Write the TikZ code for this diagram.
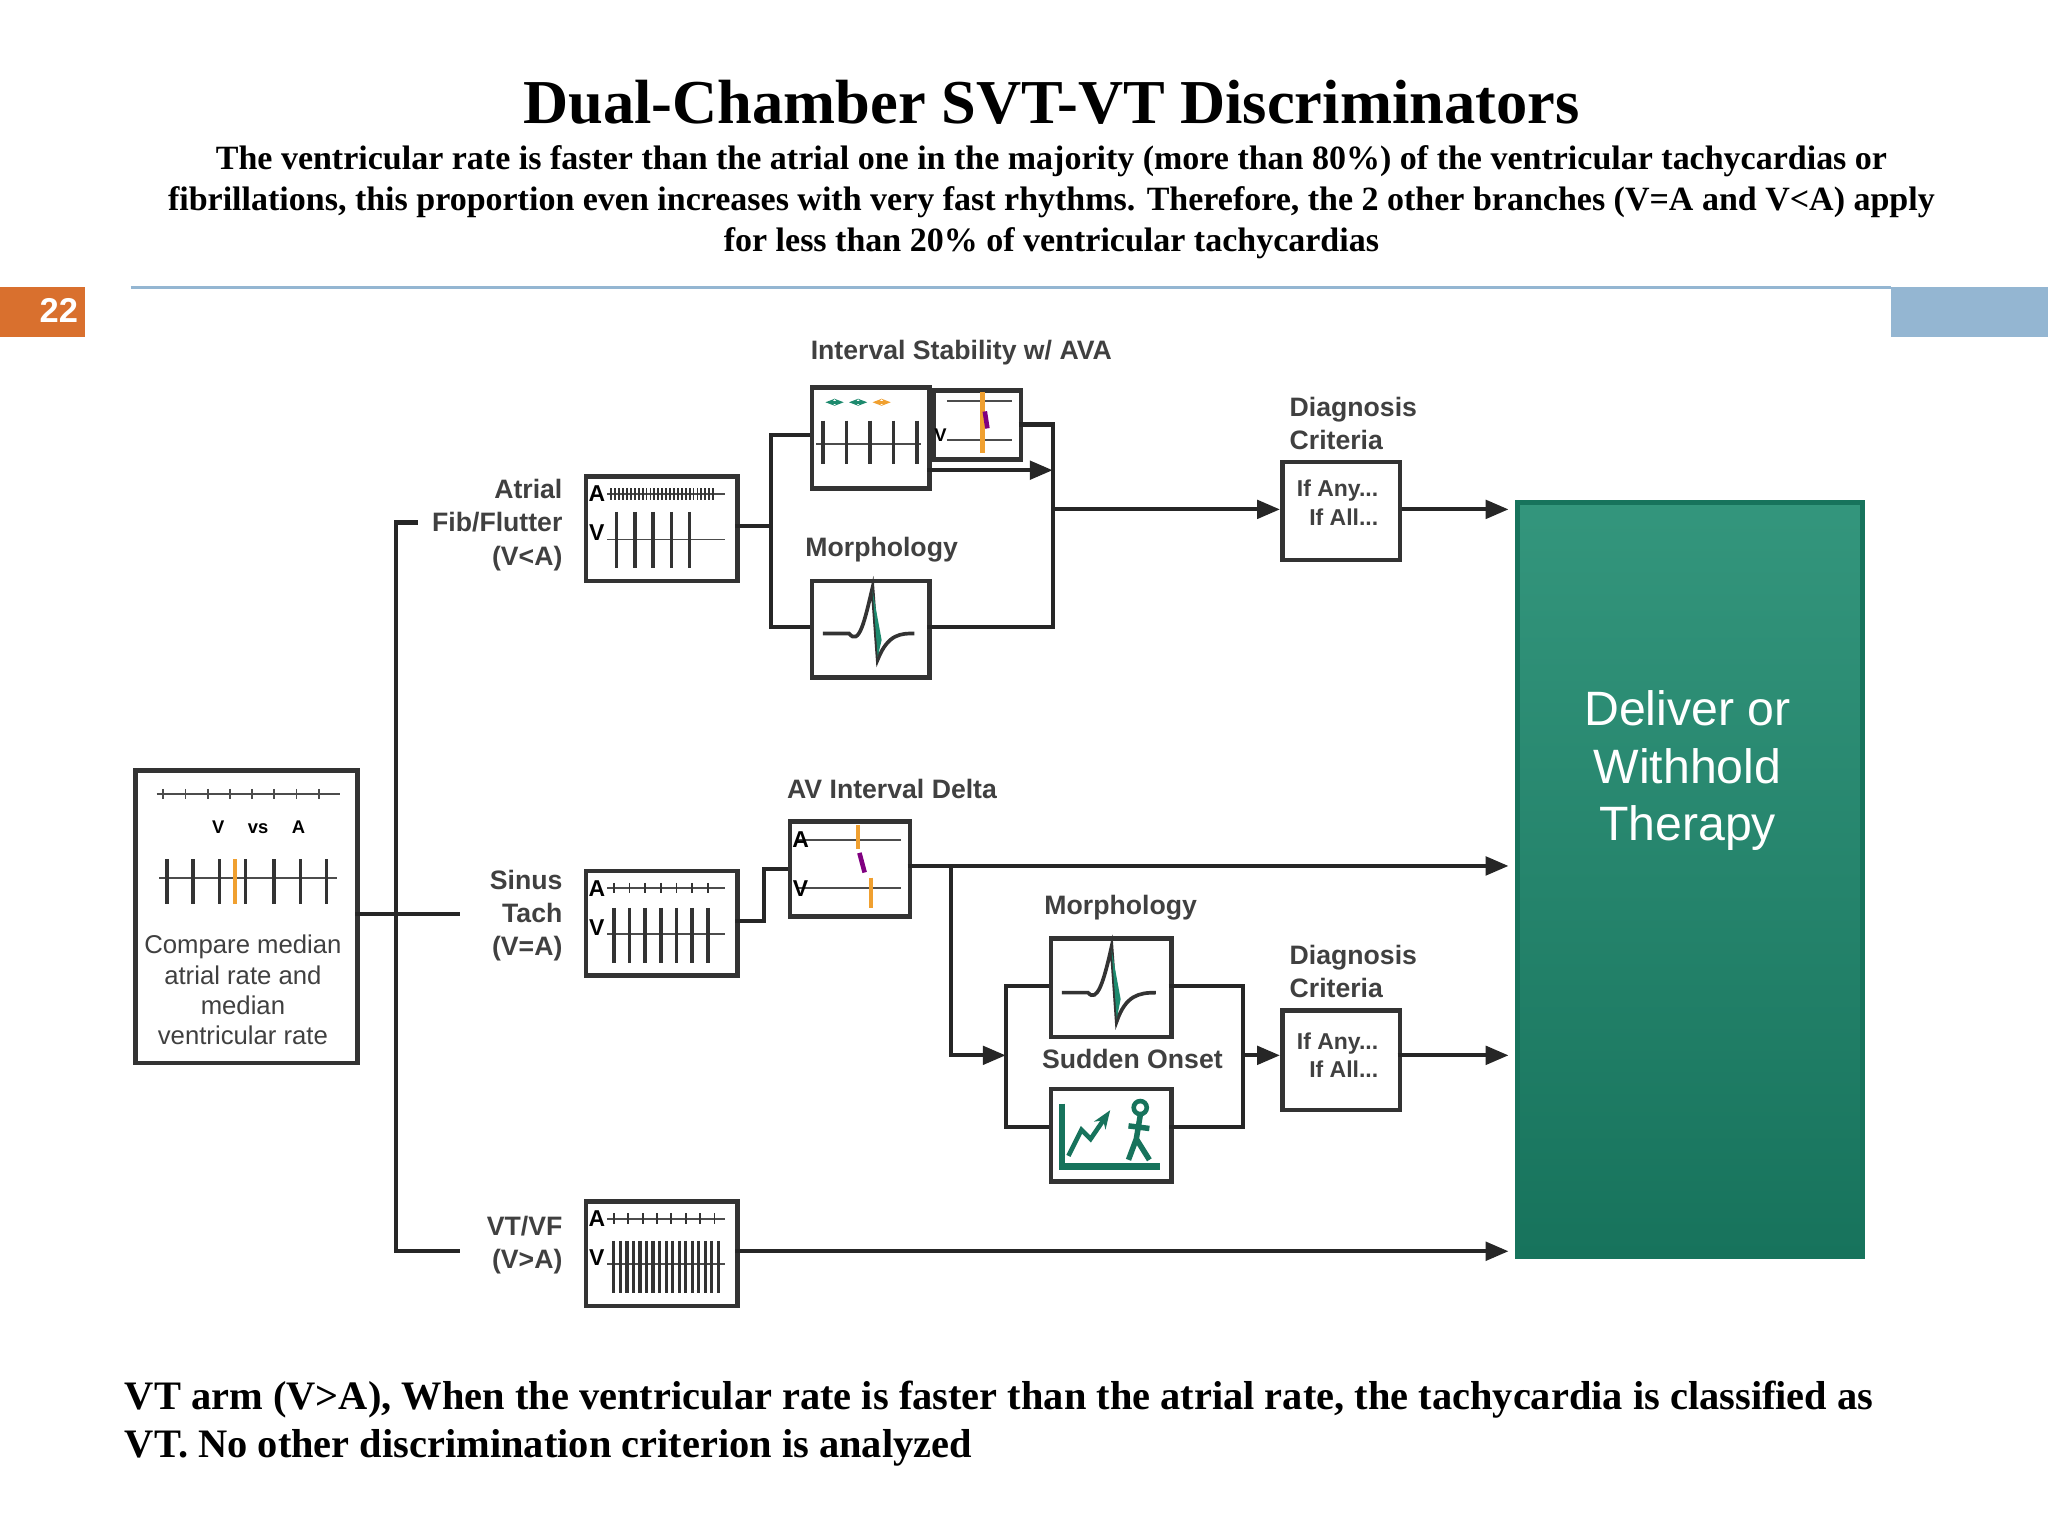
\documentclass[tikz,border=0pt]{standalone}
\usepackage{fontspec}
\setmainfont{Liberation Serif}
\newfontfamily\lblfont{Liberation Sans}
\usetikzlibrary{arrows.meta}
\definecolor{tealbox}{HTML}{1D8A6E}
\definecolor{tealdark}{HTML}{17735C}
\definecolor{slideorange}{HTML}{D9702E}
\definecolor{slideblue}{HTML}{94B6D2}
\definecolor{ecgorange}{HTML}{F0A030}
\tikzset{
  stripbox/.style={draw=black!80,line width=1pt,fill=white,inner sep=0pt,anchor=north west},
  lbl/.style={font=\lblfont\fontsize{5.8}{7.2}\selectfont\bfseries,text=black!75},
  flow/.style={draw=black!85,line width=0.9pt},
  arr/.style={flow,-{Triangle[length=5pt,width=4pt]}},
}
\begin{document}
\begin{tikzpicture}[x=0.01cm,y=-0.01cm]
\useasboundingbox (0,0) rectangle (1568,1176);
% header
\node (title) at (805,78) {\fontsize{13.6}{15}\selectfont\bfseries Dual-Chamber SVT-VT Discriminators};
\node[align=center,font=\fontsize{7.4}{8.9}\selectfont\bfseries] (sub) at (805,155) {
  The ventricular rate is faster than the atrial one in the majority (more than 80\%) of the ventricular tachycardias or\\
  fibrillations, this proportion even increases with very fast rhythms. Therefore, the 2 other branches (V=A and V<A) apply\\
  for less than 20\% of ventricular tachycardias};
\fill[slideorange] (0,220) rectangle (65,258);
\node[text=white,font=\lblfont\fontsize{7.5}{9}\selectfont\bfseries] (num) at (45,238) {22};
\draw[slideblue,line width=0.8pt] (100,220) -- (1448,220);
\fill[slideblue] (1448,220) rectangle (1568,258);
% left compare box
\node[stripbox,minimum width=1.70cm,minimum height=2.24cm] (cmp) at (102,588) {};
\draw[black!70] (120,608) -- (260,608);
\foreach \x in {125,142,159,176,193,210,227,244} \draw[black!70] (\x,604) -- (\x,612);
\draw[black!70] (122,672) -- (258,672);
\foreach \x in {128,148,168,188,210,230,250} \draw[black!80,line width=0.8pt] (\x,658) -- (\x,692);
\draw[ecgorange,line width=1pt] (180,658) -- (180,692);
\node[font=\lblfont\fontsize{4}{5}\selectfont\bfseries] (va) at (198,633) {V \quad vs \quad A};
\node[lbl,font=\lblfont\fontsize{5.6}{6.6}\selectfont,align=center] (cmptext) at (186,758) {Compare median\\atrial rate and\\median\\ventricular rate};
% branches
\draw[flow] (272,700) -- (352,700);
\draw[flow] (320,400) -- (303,400) -- (303,958) -- (352,958);
% strip boxes
\node[stripbox,minimum width=1.16cm,minimum height=0.80cm] (af) at (447,363) {};
\node[stripbox,minimum width=1.16cm,minimum height=0.80cm] (st) at (447,665) {};
\node[stripbox,minimum width=1.16cm,minimum height=0.80cm] (vt) at (447,918) {};
\node[lbl,align=right,anchor=east] (aflbl) at (443,402) {Atrial\\Fib/Flutter\\(V<A)};
\node[lbl,align=right,anchor=east] (stlbl) at (443,701) {Sinus\\Tach\\(V=A)};
\node[lbl,align=right,anchor=east] (vtlbl) at (443,953) {VT/VF\\(V>A)};
\foreach \b in {363,665,918}{
  \draw[black!70] (465,\b+15) -- (555,\b+15);
  \draw[black!70] (465,\b+50) -- (555,\b+50);
  \node[font=\lblfont\fontsize{5}{6}\selectfont\bfseries] at (457,\b+15) {A};
  \node[font=\lblfont\fontsize{5}{6}\selectfont\bfseries] at (457,\b+45) {V};
}
\foreach \x in {468,471,...,548} \draw[black!80] (\x,374) -- (\x,383);
\foreach \x in {472,486,...,540} \draw[black!80,line width=0.8pt] (\x,392) -- (\x,435);
\foreach \x in {470,482,...,545} \draw[black!80] (\x,676) -- (\x,684);
\foreach \x in {470,482,...,545} \draw[black!80,line width=0.8pt] (\x,695) -- (\x,737);
\foreach \x in {470,481,...,550} \draw[black!80] (\x,929) -- (\x,937);
\foreach \x in {470,475,...,552} \draw[black!80,line width=0.7pt] (\x,950) -- (\x,990);
% AF branch
\draw[flow] (563,403) -- (590,403);
\draw[flow] (620,333) -- (590,333) -- (590,480) -- (620,480);
\node[stripbox,minimum width=0.90cm,minimum height=0.77cm] (ivs) at (620,295) {};
\node[stripbox,minimum width=0.67cm,minimum height=0.53cm] (ivsb) at (713,297) {};
\draw[black!70] (625,340) -- (705,340);
\foreach \x in {630,648,666,684,702} \draw[black!80,line width=0.8pt] (\x,322) -- (\x,355);
\draw[tealbox,{Stealth[length=2pt]}-{Stealth[length=2pt]},line width=0.7pt] (632,308) -- (646,308);
\draw[tealbox,{Stealth[length=2pt]}-{Stealth[length=2pt]},line width=0.7pt] (650,308) -- (664,308);
\draw[ecgorange,{Stealth[length=2pt]}-{Stealth[length=2pt]},line width=0.7pt] (668,308) -- (682,308);
\draw[black!70] (725,307) -- (775,307);
\draw[black!70] (725,337) -- (775,337);
\draw[ecgorange,line width=1pt] (752,300) -- (752,347);
\draw[violet,line width=1pt] (754,315) -- (756,328);
\node[font=\lblfont\fontsize{4}{5}\selectfont\bfseries] at (720,333) {V};
\node[stripbox,minimum width=0.90cm,minimum height=0.74cm] (afm) at (620,443) {};
\draw[black!80,line width=0.8pt] (630,485) -- (650,485) .. controls (658,495) and (662,475) .. (668,450) -- (672,505) .. controls (680,485) and (690,485) .. (700,485);
\fill[tealbox] (668,452) -- (672,503) -- (675,490) -- cycle;
\node[lbl] (ivslbl) at (736,270) {Interval Stability w/ AVA};
\node[lbl] (afmlbl) at (675,421) {Morphology};
\coordinate (afj) at (806,390);
\draw[flow] (780,325) -- (806,325) -- (806,480) -- (710,480);
\draw[arr] (710,360) -- (806,360);
\node[stripbox,minimum width=0.90cm,minimum height=0.75cm] (dc1) at (980,352) {};
\node[lbl,align=right,font=\lblfont\fontsize{5}{6.2}\selectfont\bfseries] at (1020,385) {If Any...\\\quad If All...};
\node[lbl,align=left,anchor=west] at (975,324) {Diagnosis\\Criteria};
\draw[arr] (afj) -- (dc1.west |- afj);
\draw[arr] (dc1.east |- afj) -- (1155,390);
% therapy box
\node[draw=tealdark,line width=1pt,top color=tealbox!90!white,bottom color=tealdark,minimum width=2.64cm,minimum height=5.77cm,inner sep=0pt,anchor=north west] (ther) at (1160,383) {};
\node[text=white,align=center,font=\lblfont\fontsize{10.5}{12.6}\selectfont] (thertxt) at (1292,590) {Deliver or\\Withhold\\Therapy};
% sinus branch
\draw[flow] (563,705) -- (585,705) -- (585,665) -- (603,665);
\node[stripbox,minimum width=0.92cm,minimum height=0.73cm] (avd) at (603,627) {};
\draw[black!70] (610,643) -- (690,643);
\draw[black!70] (610,680) -- (690,680);
\node[font=\lblfont\fontsize{5}{6}\selectfont\bfseries] at (613,643) {A};
\node[font=\lblfont\fontsize{5}{6}\selectfont\bfseries] at (613,680) {V};
\draw[ecgorange,line width=1pt] (657,632) -- (657,650);
\draw[ecgorange,line width=1pt] (667,672) -- (667,695);
\draw[violet,line width=1pt] (658,653) -- (662,668);
\node[lbl] (avdlbl) at (683,604) {AV Interval Delta};
\draw[arr] (695,663) -- (1155,663);
\draw[arr] (728,663) -- (728,808) -- (770,808);
\draw[flow] (803,755) -- (770,755) -- (770,863) -- (803,863);
\node[stripbox,minimum width=0.92cm,minimum height=0.75cm] (stm) at (803,717) {};
\node[stripbox,minimum width=0.92cm,minimum height=0.71cm] (so) at (803,832) {};
\draw[black!80,line width=0.8pt] (813,760) -- (833,760) .. controls (840,768) and (845,752) .. (851,725) -- (855,782) .. controls (862,762) and (872,760) .. (885,760);
\fill[tealbox] (851,727) -- (855,780) -- (858,765) -- cycle;
\draw[tealdark,line width=1.4pt] (813,845) -- (813,893) -- (888,893);
\draw[tealdark,line width=1pt,-{Stealth[length=4pt]}] (818,885) -- (828,865) -- (835,872) -- (850,850);
\draw[tealdark,line width=1pt] (873,848) circle (5);
\draw[tealdark,line width=1.2pt] (873,854) -- (870,872) -- (864,888) (870,872) -- (880,888) (864,862) -- (880,864);
\node[lbl] (stmlbl) at (858,695) {Morphology};
\node[lbl] (solbl) at (867,811) {Sudden Onset};
\draw[flow] (895,755) -- (952,755) -- (952,863) -- (895,863);
\node[stripbox,minimum width=0.90cm,minimum height=0.76cm] (dc2) at (980,772) {};
\node[lbl,align=right,font=\lblfont\fontsize{5}{6.2}\selectfont\bfseries] at (1020,808) {If Any...\\\quad If All...};
\node[lbl,align=left,anchor=west] at (975,744) {Diagnosis\\Criteria};
\draw[arr] (952,808) -- (dc2.west |- 0,808);
\draw[arr] (1070,808) -- (1155,808);
% VT branch
\draw[arr] (563,958) -- (1155,958);
% footer
\node[align=left,anchor=west,inner sep=0pt,font=\fontsize{8.8}{10.6}\selectfont\bfseries] (foot) at (95,1090) {
  VT arm (V>A), When the ventricular rate is faster than the atrial rate, the tachycardia is classified as\\
  VT. No other discrimination criterion is analyzed};
\end{tikzpicture}
\end{document}
